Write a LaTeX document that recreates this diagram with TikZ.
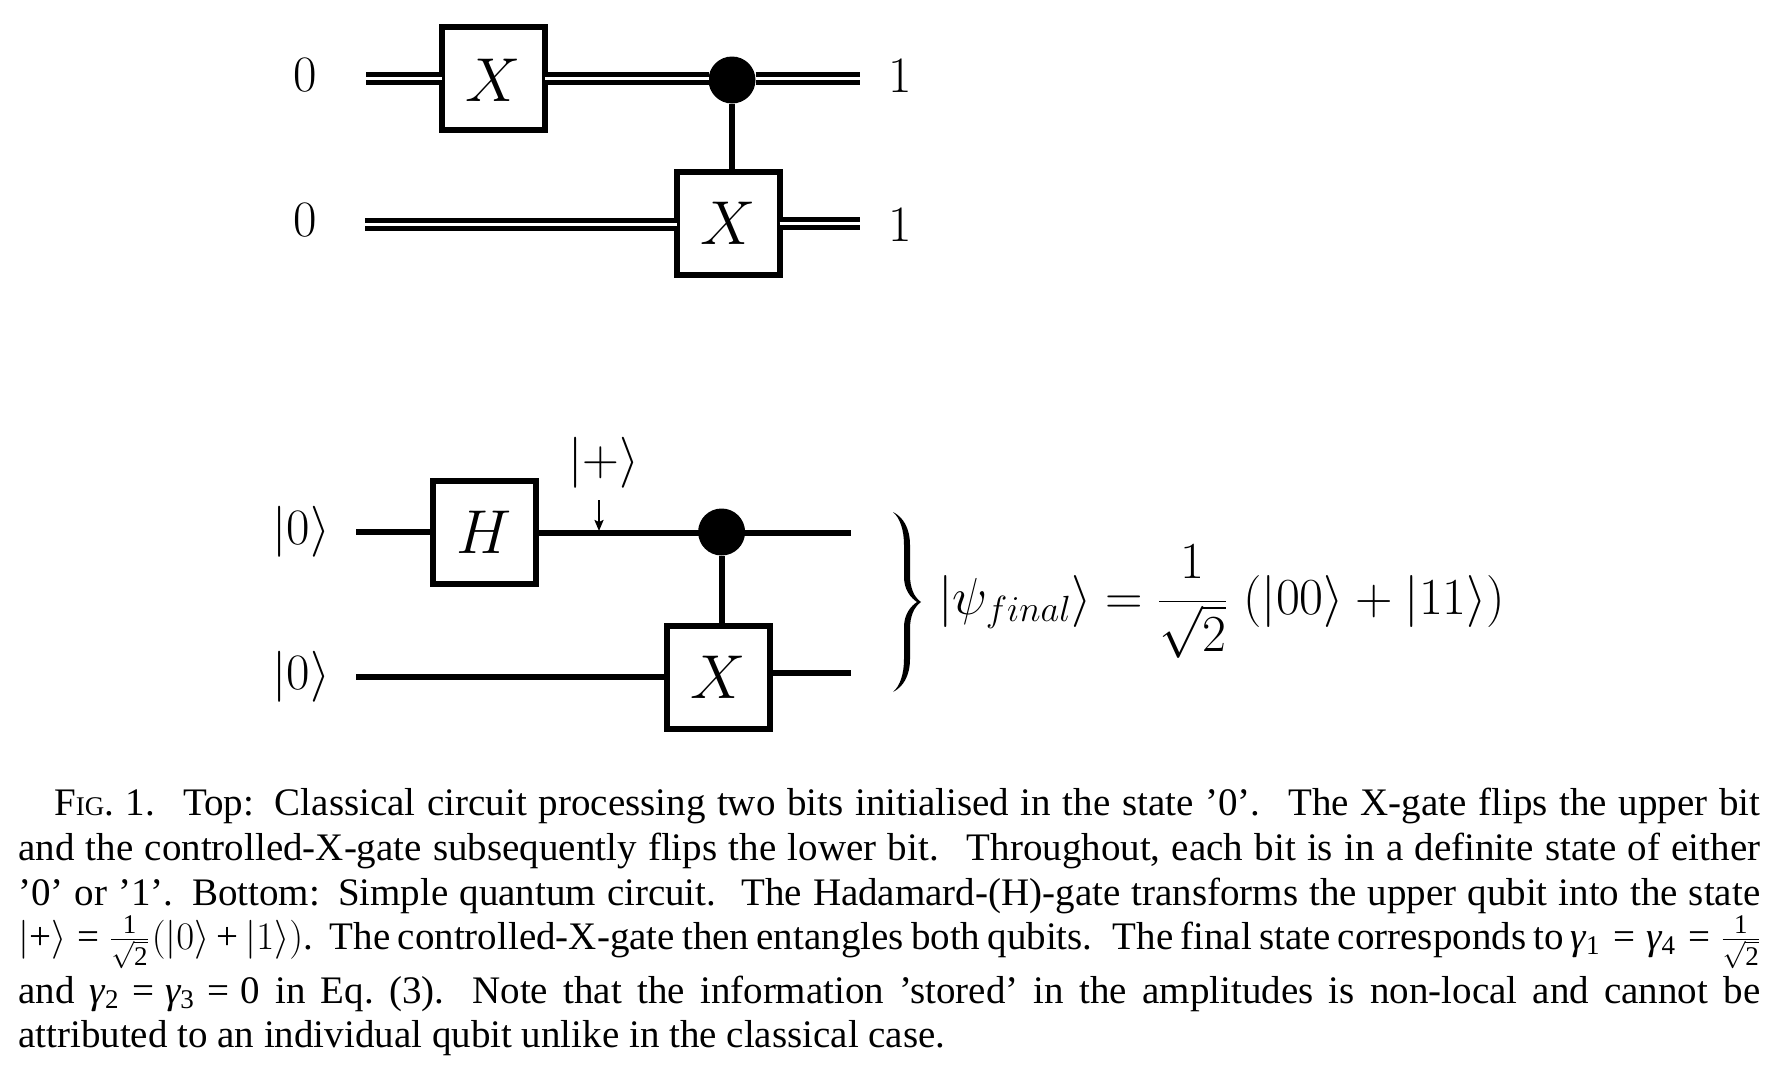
\RequirePackage{fix-cm}
\documentclass[tikz,border=0pt]{standalone}
\usepackage{fontspec}
\usepackage{amsmath}
\usetikzlibrary{arrows.meta}
\newfontfamily\capfont{Liberation Serif}
\newcommand\bigfs{\fontsize{51}{60}\selectfont}
\newcommand\eqfs{\fontsize{52}{60}\selectfont}
\newcommand\gatefs{\fontsize{62}{70}\selectfont}
\newcommand\capfs{\fontsize{39}{44}\selectfont\capfont\frenchspacing}
\newcommand\capsm{\fontsize{27}{27}\selectfont\capfont}
\newcommand\gam[1]{{\itshape γ}$_{\mbox{\capsm #1}}$\kern2pt}
\newcommand\hfr{$\frac{\mbox{\capsm 1}}{\sqrt{\mbox{\capsm 2}}}$}
\newcommand\capeq{\hspace{11pt}=\hspace{11pt}}
\tikzset{
  gate/.style={draw=black,fill=white,line width=6pt,minimum width=103pt,minimum height=103pt,inner sep=0pt,outer sep=0pt,font=\gatefs},
  ctrl/.style={circle,fill=black,draw=none,minimum size=47pt,inner sep=0pt,outer sep=0pt},
  wire/.style={line width=5.8pt},
  cwire/.style={line width=5pt,double=white,double distance=3pt,draw=black},
  lbl/.style={inner sep=0pt,font=\bigfs},
  capline/.style={anchor=base west,inner sep=0pt,font=\capfs},
  probe/.style={line width=2pt,-{Stealth[length=11pt,width=9pt,inset=2pt]}}
}
\begin{document}
\begin{tikzpicture}[x=1pt,y=-1pt]
\useasboundingbox (0,0) rectangle (1778,1068);
\fill[white] (0,0) rectangle (1778,1068);
% --- classical circuit
\coordinate (ca) at (366,78);
\coordinate (cb) at (365,224.5);
\coordinate (cae) at (860,78);
\coordinate (cbe) at (860,223.5);
\node[ctrl] (cdot) at (732,80) {};
\node[gate] (cx1) at (493.5,78.5) {};
\node[inner sep=0pt,font=\gatefs] (cx1t) at (493.5,80.5) {$X$};
\node[gate] (cx2) at (728,223.5) {$X$};
\draw[cwire] (ca) -- (ca -| cx1.west);
\draw[cwire] (ca -| cx1.east) -- (ca -| cdot.west);
\draw[cwire] (ca -| cdot.east) -- (cae);
\draw[cwire] (cb) -- (cb -| cx2.west);
\draw[cwire] (cbe -| cx2.east) -- (cbe);
\draw[wire] (cdot) -- (cdot |- cx2.north);
\node[lbl] (c0a) at (305.5,75) {$0$};
\node[lbl] (c0b) at (305.5,220) {$0$};
\node[lbl] (c1a) at (900.5,76) {$1$};
\node[lbl] (c1b) at (900.5,225) {$1$};
% --- quantum circuit
\coordinate (qa) at (356,531.7);
\coordinate (qb) at (356,676.7);
\coordinate (qae) at (851,533);
\coordinate (qbe) at (851,672.7);
\node[gate] (qh) at (484,532) {$H$};
\node[gate] (qx) at (718,677) {$X$};
\node[ctrl] (qdot) at (721.6,532) {};
\draw[wire] (qa) -- (qa -| qh.west);
\draw[wire] (qae -| qh.east) -- (qae);
\draw[wire] (qb) -- (qb -| qx.west);
\draw[wire] (qbe -| qx.east) -- (qbe);
\draw[wire] (qdot) -- (qdot |- qx.north);
\coordinate (pt) at (599,500);
\coordinate (ph) at (599,531);
\draw[probe] (pt) -- (ph);
\node[lbl] (qplus) at (604,463) {$|{+}\rangle$};
\node[lbl] (qk0a) at (301.5,532) {$|0\rangle$};
\node[lbl] (qk0b) at (301.5,677) {$|0\rangle$};
% brace
\fill (893,512) .. controls (903,517) and (910,528) .. (910,545) -- (910,575)
  .. controls (910,588) and (914,597) .. (921,602)
  .. controls (914,607) and (910,616) .. (910,629) -- (910,659)
  .. controls (910,676) and (903,687) .. (893,692)
  .. controls (900,686) and (904,674) .. (904,659) -- (904,627)
  .. controls (904,614) and (911,606) .. (917,602)
  .. controls (911,598) and (904,590) .. (904,577) -- (904,545)
  .. controls (904,530) and (900,518) .. (893,512) -- cycle;
\node[inner sep=0pt,font=\eqfs,anchor=west] (qeq) at (938,602) {$\displaystyle |\psi_{final}\rangle = \frac{1}{\sqrt{2}}\mskip2.5mu\left(|00\rangle+|11\rangle\right)$};
% --- caption
\node[capline] (l1) at (54,815) {\hbox to 1706pt{F{\capsm IG}. 1.\hspace{28pt}Top:\hspace{21pt}Classical circuit processing two bits initialised in the state ’0’.\hspace{28pt}The X-gate flips the upper bit}};
\node[capline] (l2) at (18,860) {\hbox to 1742pt{and the controlled-X-gate subsequently flips the lower bit.\hspace{28pt}Throughout, each bit is in a definite state of either}};
\node[capline] (l3) at (18,905) {\hbox to 1742pt{’0’ or ’1’.\hspace{19pt}Bottom:\hspace{18pt}Simple quantum circuit.\hspace{25pt}The Hadamard-(H)-gate transforms the upper qubit into the state}};
\node[capline] (l4) at (18,949) {\hbox to 1742pt{$|$+$\rangle$\capeq\hfr\hspace{3pt}$($$|0\rangle$\hspace{7pt}+\hspace{7pt}$|1\rangle$$)$.\hspace{17pt}The controlled-X-gate then entangles both qubits.\hspace{20pt}The final state corresponds to \gam{1}\capeq\gam{4}\capeq\hfr}};
\node[capline] (l5) at (18,1003) {\hbox to 1742pt{and \gam{2}\capeq\gam{3}\capeq 0 in Eq. (3).\hspace{28pt}Note that the information ’stored’ in the amplitudes is non-local and cannot be}};
\node[capline] (l6) at (18,1047) {attributed to an individual qubit unlike in the classical case.};
\end{tikzpicture}
\end{document}
